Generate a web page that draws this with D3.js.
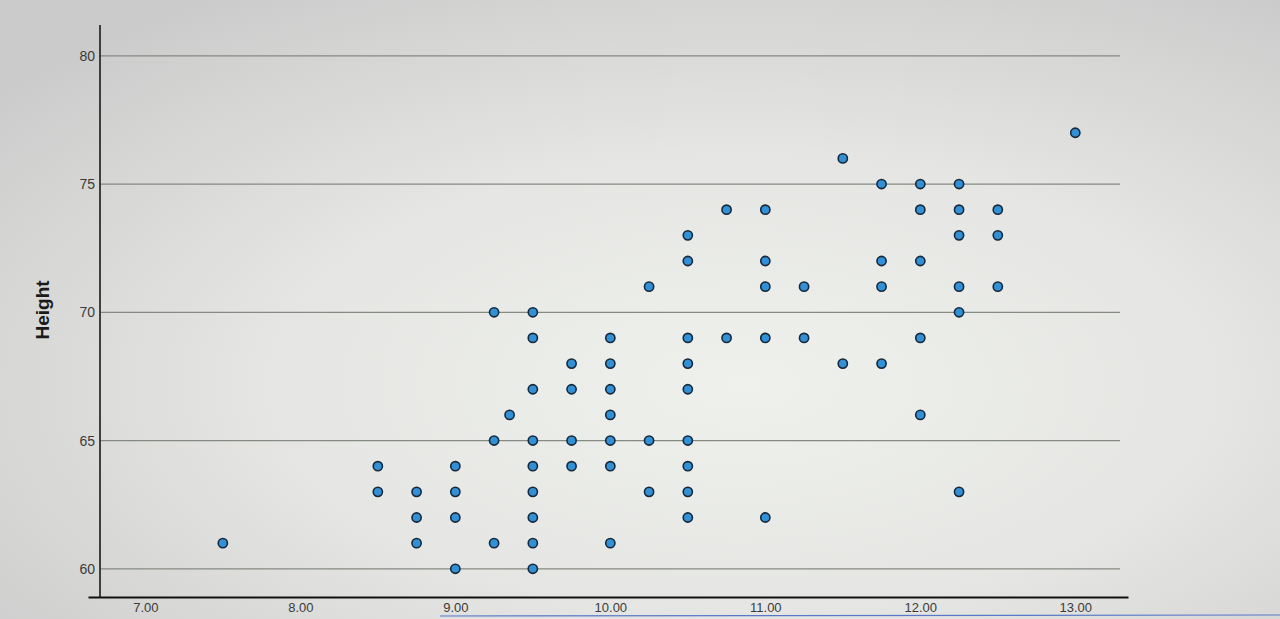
<!DOCTYPE html>
<html><head><meta charset="utf-8">
<script src="https://cdn.jsdelivr.net/npm/d3@7/dist/d3.min.js"></script>
<style>html,body{margin:0;padding:0;overflow:hidden;background:#d6d6d6;}</style>
</head><body><svg id="c" width="1280" height="619"></svg>
<script>
// Data: x = shoe size (quarter steps), y = Height
const shoeSize = [7.5, 8.5,8.5, 8.75,8.75,8.75, 9,9,9,9, 9.25,9.25,9.25, 9.35,
  9.5,9.5,9.5,9.5,9.5,9.5,9.5,9.5,9.5, 9.75,9.75,9.75,9.75,
  10,10,10,10,10,10,10, 10.25,10.25,10.25,
  10.5,10.5,10.5,10.5,10.5,10.5,10.5,10.5,10.5, 10.75,10.75,
  11,11,11,11,11, 11.25,11.25, 11.5,11.5, 11.75,11.75,11.75,11.75,
  12,12,12,12,12, 12.25,12.25,12.25,12.25,12.25,12.25, 12.5,12.5,12.5, 13];
const height = [61, 64,63, 63,62,61, 64,63,62,60, 70,65,61, 66,
  70,69,67,65,64,63,62,61,60, 68,67,65,64,
  69,68,67,66,65,64,61, 71,65,63,
  73,72,69,68,67,65,64,63,62, 74,69,
  74,72,71,69,62, 71,69, 76,68, 75,72,71,68,
  75,74,72,69,66, 75,74,73,71,70,63, 74,73,71, 77];
const xTicks = [7, 8, 9, 10, 11, 12, 13];
const yTicks = [60, 65, 70, 75, 80];
const yTitle = "Height";

const svg = d3.select("#c");
const defs = svg.append("defs");
const rg = defs.append("radialGradient").attr("id","bg").attr("cx","0.58").attr("cy","0.62").attr("r","0.75");
rg.append("stop").attr("offset","0").attr("stop-color","#eff1ed");
rg.append("stop").attr("offset","0.5").attr("stop-color","#e5e6e3");
rg.append("stop").attr("offset","1").attr("stop-color","#cbcbcb");
svg.append("rect").attr("width",1280).attr("height",619).attr("fill","url(#bg)");

const x = d3.scaleLinear().domain([6.63, 13.34]).range([88, 1128]);
const y = d3.scaleLinear().domain([58.9, 81.2]).range([597, 25]);
const yAxisX = 100;

// gridlines
svg.append("g").selectAll("line").data(yTicks).join("line")
  .attr("x1", yAxisX).attr("x2", 1120)
  .attr("y1", d => y(d)).attr("y2", d => y(d))
  .attr("stroke", "#858a82").attr("stroke-width", 1.3);

// y axis
const yAxis = d3.axisLeft(y).tickValues(yTicks).tickSize(0).tickPadding(5).tickFormat(d3.format("d"));
const gy = svg.append("g").attr("transform", `translate(${yAxisX},0)`).call(yAxis);
gy.select(".domain").remove();
gy.selectAll("text").attr("font-family","Liberation Sans, Arial, sans-serif").attr("font-size",14).attr("fill","#3a3a3a");
svg.append("line").attr("x1",yAxisX).attr("x2",yAxisX).attr("y1",25).attr("y2",597)
  .attr("stroke","#2e2e2e").attr("stroke-width",1.8);

// x axis
const xAxis = d3.axisBottom(x).tickValues(xTicks).tickSize(0).tickPadding(6).tickFormat(d3.format(".2f"));
const gx = svg.append("g").attr("transform", `translate(0,597)`).call(xAxis);
gx.select(".domain").attr("stroke","#111").attr("stroke-width",2.2);
gx.selectAll("text").attr("font-family","Liberation Sans, Arial, sans-serif").attr("font-size",13).attr("fill","#3a3a3a");

// y title
svg.append("text").attr("transform","translate(49,310) rotate(-90)")
  .attr("text-anchor","middle").attr("font-family","Liberation Sans, Arial, sans-serif")
  .attr("font-size",19).attr("font-weight","bold").attr("fill","#1a1a1a").text(yTitle);

// points
svg.append("g").selectAll("circle").data(shoeSize.map((s,i)=>[s,height[i]])).join("circle")
  .attr("cx", d => x(d[0])).attr("cy", d => y(d[1])).attr("r", 4.6)
  .attr("fill", "#3190d6").attr("stroke", "#16283a").attr("stroke-width", 1.6);

// screen artifact line at bottom
svg.append("line").attr("x1",440).attr("x2",1280).attr("y1",616).attr("y2",615)
  .attr("stroke","#5a78c8").attr("stroke-width",1.2);
</script>
</body></html>
